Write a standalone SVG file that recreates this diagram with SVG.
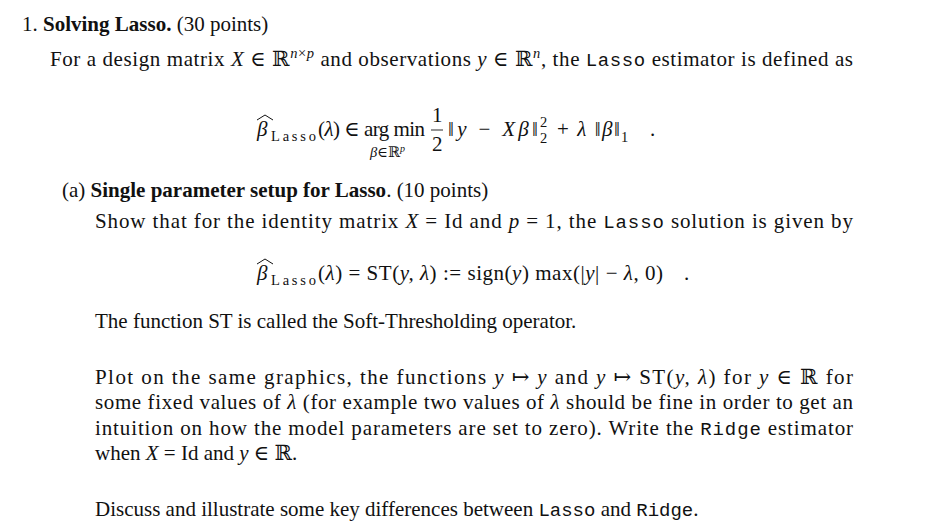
<svg xmlns="http://www.w3.org/2000/svg" width="951" height="532" viewBox="0 0 951 532">
<style>
text{font-family:"Liberation Serif","DejaVu Serif",serif;font-size:21px;fill:#111}
.b{font-weight:bold}.i{font-style:italic}.m{font-family:"Liberation Mono","DejaVu Sans Mono",monospace;font-size:19px}
.s{font-size:14.5px}
.hat{fill:none;stroke:#111;stroke-width:1}
</style>
<rect width="951" height="532" fill="#fff"/>
<g id="heading"><text x="22" y="31">1. <tspan class="b">Solving Lasso.</tspan> (30 points)</text></g>
<g id="intro"><text x="50" y="66" textLength="803" lengthAdjust="spacing">For a design matrix <tspan class="i">X</tspan> ∈ ℝ<tspan class="i s" dy="-8">n</tspan><tspan class="s" dy="0">×</tspan><tspan class="i s">p</tspan><tspan dy="8"> and observations </tspan><tspan class="i">y</tspan> ∈ ℝ<tspan class="i s" dy="-8">n</tspan><tspan dy="8">, the </tspan><tspan class="m">Lasso</tspan> estimator is defined as</text></g>
<g id="eq1">
<text x="257" y="136" class="i">β</text><path class="hat" d="M257 120 L265 115 L273 120"/>
<text x="271" y="141" class="s" textLength="45">Lasso</text>
<text x="318" y="136" textLength="107" lengthAdjust="spacing">(<tspan class="i">λ</tspan>) ∈ arg min</text>
<text x="370" y="157" class="i s">β<tspan font-style="normal">∈ℝ</tspan><tspan font-size="10" dy="-5">p</tspan></text>
<text x="432" y="122">1</text><line x1="431" y1="130" x2="443" y2="130" stroke="#111" stroke-width="0.9"/><text x="432" y="151">2</text>
<text x="448" y="136" textLength="90" lengthAdjust="spacing">‖<tspan class="i">y</tspan> − <tspan class="i">Xβ</tspan>‖</text>
<text x="540" y="127" class="s">2</text><text x="540" y="143" class="s">2</text>
<text x="557" y="136" textLength="63" lengthAdjust="spacing">+ <tspan class="i">λ</tspan> ‖<tspan class="i">β</tspan>‖</text><text x="621" y="142" class="s">1</text>
<text x="650" y="136">.</text>
</g>
<g id="part-a"><text x="62" y="197">(a) <tspan class="b">Single parameter setup for Lasso</tspan>. (10 points)</text>
<text x="95" y="228" textLength="758" lengthAdjust="spacing">Show that for the identity matrix <tspan class="i">X</tspan> = Id and <tspan class="i">p</tspan> = 1, the <tspan class="m">Lasso</tspan> solution is given by</text></g>
<g id="eq2">
<text x="257" y="280" class="i">β</text><path class="hat" d="M257 264 L265 259 L273 264"/>
<text x="271" y="285" class="s" textLength="45">Lasso</text>
<text x="318" y="280" textLength="345" lengthAdjust="spacing">(<tspan class="i">λ</tspan>) = ST(<tspan class="i">y, λ</tspan>) := sign(<tspan class="i">y</tspan>) max(|<tspan class="i">y</tspan>| − <tspan class="i">λ</tspan>, 0)</text>
<text x="684" y="280">.</text>
</g>
<g id="st"><text x="95" y="328">The function ST is called the Soft-Thresholding operator.</text></g>
<g id="plot"><text x="95" y="384" textLength="758" lengthAdjust="spacing">Plot on the same graphics, the functions <tspan class="i">y</tspan> ↦ <tspan class="i">y</tspan> and <tspan class="i">y</tspan> ↦ ST(<tspan class="i">y, λ</tspan>) for <tspan class="i">y</tspan> ∈ ℝ for</text>
<text x="95" y="409" textLength="758" lengthAdjust="spacing">some fixed values of <tspan class="i">λ</tspan> (for example two values of <tspan class="i">λ</tspan> should be fine in order to get an</text>
<text x="95" y="435" textLength="758" lengthAdjust="spacing">intuition on how the model parameters are set to zero). Write the <tspan class="m">Ridge</tspan> estimator</text>
<text x="95" y="460">when <tspan class="i">X</tspan> = Id and <tspan class="i">y</tspan> ∈ ℝ.</text></g>
<g id="discuss"><text x="95" y="516">Discuss and illustrate some key differences between <tspan class="m">Lasso</tspan> and <tspan class="m">Ridge</tspan>.</text></g>
</svg>
